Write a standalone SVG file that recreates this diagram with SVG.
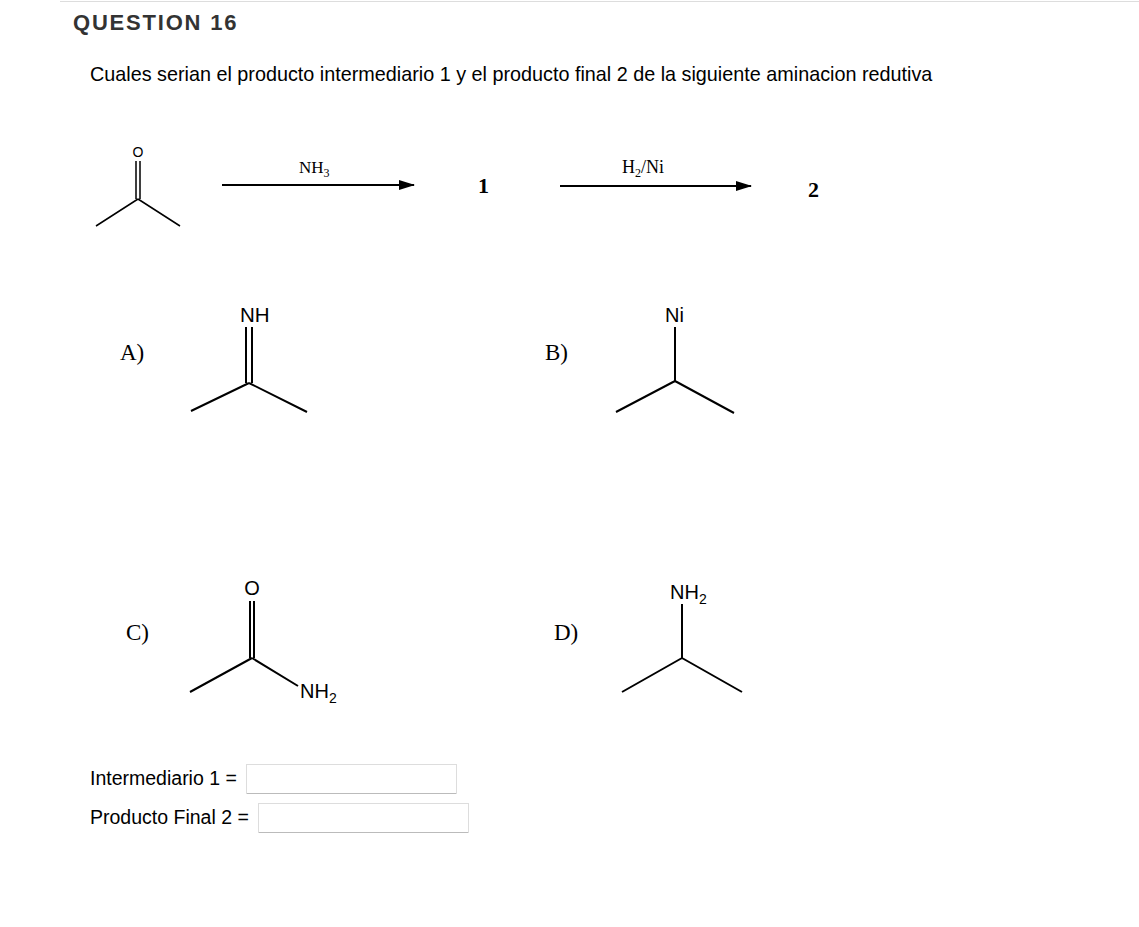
<svg xmlns="http://www.w3.org/2000/svg" width="1139" height="927" viewBox="0 0 1139 927">
<style>
.b{stroke:#000;stroke-width:2;fill:none}
.s{font-family:"Liberation Sans",Arial,sans-serif;fill:#000}
.t{font-family:"Liberation Serif","Times New Roman",serif;fill:#000}
.box{fill:#fff;stroke:#ddd;stroke-width:1}
</style>
<defs><marker id="ah" markerWidth="16" markerHeight="10" refX="15" refY="5" orient="auto" markerUnits="userSpaceOnUse"><path d="M0,0L16,5L0,10z" fill="#000"/></marker></defs>
<rect width="1139" height="927" fill="#fff"/>
<line x1="60" y1="1.5" x2="1139" y2="1.5" stroke="#ddd"/>
<text x="73" y="30" class="s" font-size="22" font-weight="bold" style="fill:#333;letter-spacing:1.8px">QUESTION 16</text>
<text x="90" y="81" class="s" font-size="19.8">Cuales serian el producto intermediario 1 y el producto final 2 de la siguiente aminacion redutiva</text>
<g id="acetone">
<text x="138" y="157" class="s" font-size="14" text-anchor="middle">O</text>
<path class="b" style="stroke-width:1.5" d="M136,161V199M140,161V199M138,199L96,226M138,199L180,226"/>
</g>
<g id="connectors">
<line x1="222" y1="185" x2="414" y2="185" class="b" marker-end="url(#ah)"/>
<line x1="560" y1="186" x2="751" y2="186" class="b" marker-end="url(#ah)"/>
</g>
<g id="labels">
<text x="299" y="173" class="t" font-size="17">NH<tspan font-size="12" dy="4">3</tspan></text>
<text x="478" y="193" class="t" font-size="22" font-weight="bold">1</text>
<text x="622" y="173" class="t" font-size="18">H<tspan font-size="12" dy="4">2</tspan><tspan dy="-4">/Ni</tspan></text>
<text x="808" y="197" class="t" font-size="22" font-weight="bold">2</text>
</g>
<g id="optA">
<text x="120" y="360" class="t" font-size="23">A)</text>
<text x="240" y="322" class="s" font-size="20.5">NH</text>
<path class="b" d="M246,327V383M252,327V383M249,383L191,411M249,383L307,412"/>
</g>
<g id="optB">
<text x="545" y="360" class="t" font-size="23">B)</text>
<text x="665" y="322" class="s" font-size="20">Ni</text>
<path class="b" d="M675,327V381M675,381L616,412M675,381L734,413"/>
</g>
<g id="optC">
<text x="126" y="640" class="t" font-size="23">C)</text>
<text x="252" y="595" class="s" font-size="20" text-anchor="middle">O</text>
<path class="b" d="M250,601V658M254,601V658M252,658L190,692M252,658L298,686"/>
<text x="300" y="698" class="s" font-size="20">NH<tspan font-size="14" dy="5">2</tspan></text>
</g>
<g id="optD">
<text x="670" y="599" class="s" font-size="20">NH<tspan font-size="14" dy="5">2</tspan></text>
<text x="554" y="640" class="t" font-size="23">D)</text>
<path class="b" d="M682,604V658M682,658L622,692M682,658L742,692"/>
</g>
<g id="form">
<text x="90" y="785" class="s" font-size="19.5">Intermediario 1 =</text>
<rect x="246.5" y="764.5" width="210" height="29" class="box"/>
<line x1="247" y1="793.5" x2="456" y2="793.5" stroke="#bbb"/>
<text x="90" y="824" class="s" font-size="19.5">Producto Final 2 =</text>
<rect x="258.5" y="803.5" width="210" height="29" class="box"/>
<line x1="259" y1="832.5" x2="468" y2="832.5" stroke="#bbb"/>
</g>
</svg>
